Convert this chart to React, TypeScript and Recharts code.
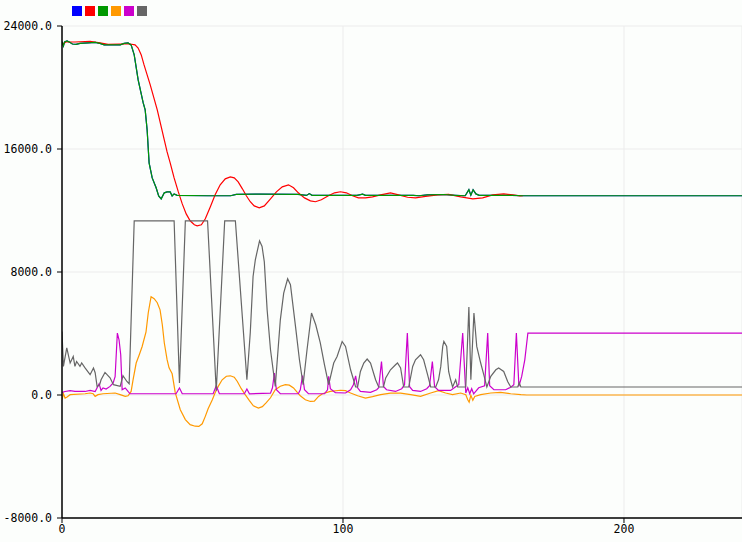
import React from "react";
import { LineChart, Line, XAxis, YAxis, CartesianGrid } from "recharts";

// [sample index, value] pairs
const greenSeries: [number, number][] = [
  [0, 22980], [0.5, 22700], [0.9, 22960], [1.8, 23030], [2.9, 22930], [3.7, 22830], [5, 22800],
  [6.4, 22870], [9.3, 22900], [11.8, 22930], [13.5, 22870], [15, 22770], [17.1, 22770], [20.7, 22770],
  [22.1, 22870], [23.5, 22900], [24.6, 22770], [25.7, 22120], [27.1, 20490], [28.9, 19000],
  [29.6, 18540], [30.3, 17240], [31, 15100], [32.1, 14120], [33.5, 13480], [34.4, 12950],
  [35.3, 12760], [36.4, 13150], [37.4, 13210], [38.5, 13210], [39.2, 12950], [39.9, 13080],
  [41, 12990], [52, 12960], [60, 12960], [62, 13050], [70, 13070], [84, 13050], [87, 12980],
  [88, 13100], [89, 12990], [105, 12990], [107, 13060], [108, 12990], [125, 12990], [127, 12960],
  [130, 13010], [136, 13040], [140, 12990], [143.5, 12960], [144.8, 13350], [145.5, 13000],
  [146.3, 13350], [147.3, 13080], [148.5, 12990], [160, 12990], [164, 12960], [242, 12960],
];

const blueSeries: [number, number][] = greenSeries;

const redSeries: [number, number][] = [
  [0, 22800], [1.4, 22960], [4.6, 22960], [10, 23000], [13.5, 22900], [16.4, 22800], [20.7, 22830],
  [24.2, 22830], [26, 22770], [27.1, 22570], [28.2, 22120], [29.2, 21470], [30.3, 20820],
  [31.4, 20170], [32.4, 19520], [33.9, 18540], [34.9, 17760], [36.4, 16590], [37.4, 15810],
  [38.5, 15100], [39.9, 14120], [41.4, 13210], [42.8, 12430], [44.2, 11780], [45.6, 11330],
  [47.1, 11070], [48.1, 11000], [49.6, 11070], [51, 11460], [52.8, 12240], [54.5, 13020],
  [56.3, 13670], [58.1, 14060], [59.9, 14190], [61.3, 14120], [62.7, 13860], [64.2, 13410],
  [65.6, 12960], [67, 12570], [68.4, 12300], [70.2, 12170], [72, 12300], [74.2, 12760],
  [76.3, 13210], [78.4, 13540], [80.6, 13670], [82.4, 13480], [84.1, 13150], [86.3, 12820],
  [88.4, 12630], [90.2, 12570], [92.3, 12700], [94.8, 12960], [97, 13150], [99.1, 13220],
  [101.2, 13150], [103.4, 12960], [105.5, 12820], [108, 12820], [110.5, 12890], [113.4, 13020],
  [116.9, 13150], [119.8, 13020], [123, 12860], [125.8, 12820], [129.4, 12920], [133.7, 13020],
  [137.6, 13050], [141.9, 12890], [146.2, 12760], [149.7, 12820], [153.3, 13020], [157.2, 13080],
  [160.4, 13020], [163, 12950], [164, 12960],
];

const orangeSeries: [number, number][] = [
  [0, -310], [0.5, 80], [1.1, -200], [1.8, -130], [2.9, 20], [8.2, 80], [10, 130], [11.1, 80],
  [11.8, -90], [12.8, 20], [14.6, 80], [18.9, 130], [20.7, 20], [22.5, -90], [23.5, -50],
  [24.6, 230], [25.3, 1000], [26.4, 2080], [27.5, 2620], [28.5, 3140], [29.9, 4110], [30.7, 5350],
  [31.7, 6390], [32.8, 6260], [33.9, 6000], [34.9, 5540], [35.7, 4570], [36.4, 3400], [37.4, 2300],
  [38.1, 1770], [39.2, 1380], [40.3, 150], [42.1, -960], [43.9, -1600], [45.6, -1930],
  [47.4, -2030], [48.7, -2040], [49.9, -1870], [51, -1390], [52, -890], [53.5, -310], [54.5, 150],
  [55.6, 560], [57, 990], [58.5, 1220], [59.9, 1250], [61.3, 1160], [62.4, 880], [63.8, 410],
  [65.2, 20], [66.7, -370], [68.1, -700], [69.9, -850], [71.3, -760], [72.7, -500], [74.2, -180],
  [75.9, 340], [77.7, 570], [79.5, 670], [80.9, 640], [82.4, 460], [83.8, 150], [84.8, -50],
  [86.6, -310], [88.4, -420], [89.8, -400], [91.3, -90], [92.7, 80], [95.5, 230], [99.1, 310],
  [100.9, 280], [102.7, 130], [105.2, -50], [108, -200], [110.5, -110], [113.4, 20], [116.9, 120],
  [120.5, 120], [124.1, 20], [127.6, -90], [131.2, 130], [134, 280], [136.5, 130], [139, 20],
  [141.9, 130], [143.7, 20], [144.4, -310], [144.9, -470], [145.5, -10], [146.2, -340],
  [146.9, -90], [149, 20], [152.6, 130], [156.1, 170], [159.7, 80], [163.3, 20], [165.4, 0],
  [242, 0],
];

const purpleSeries: [number, number][] = [
  [0, 170], [1.1, 230], [2.9, 280], [4.6, 230], [8.2, 230], [10, 300], [11.8, 230], [12.5, 470],
  [13.2, 730], [13.9, 300], [14.6, 460], [15.7, 390], [17.1, 560], [18.2, 780], [18.9, 1190],
  [19.7, 4030], [20.3, 3590], [20.9, 2620], [21.4, 340], [22.5, 460], [23.5, 230], [24.2, 80],
  [40.6, 80], [41.8, 460], [42.8, 80], [53.8, 80], [54.9, 600], [56, 80], [64.9, 80], [65.8, 390],
  [66.7, 80], [74.2, 120], [74.9, 470], [75.6, 1430], [76.3, 340], [77.7, 80], [84.1, 80],
  [84.8, 340], [85.6, 1270], [86.3, 340], [87.7, 80], [93.4, 80], [94.5, 340], [94.9, 1210],
  [95.5, 410], [97.3, 150], [100.9, 130], [102.7, 340], [103.7, 670], [104.5, 1250], [105.2, 470],
  [106.2, 230], [109.8, 170], [112, 340], [112.7, 470], [113.7, 2180], [114.4, 560], [115.5, 340],
  [118.7, 230], [120.9, 410], [121.9, 670], [122.9, 4030], [123.7, 540], [124.8, 300], [127.6, 230],
  [129.8, 410], [130.8, 600], [131.8, 2180], [132.6, 540], [134, 300], [138.3, 300], [140.1, 540],
  [141.2, 670], [142.6, 4030], [143.7, 130], [144.4, 470], [145.1, 80], [145.8, 410], [146.5, 80],
  [148.3, 470], [150.4, 600], [151.5, 4030], [152.2, 600], [153.7, 340], [157.9, 340], [159.7, 510],
  [160.8, 670], [161.7, 4030], [162.6, 560], [163.6, 1210], [164.7, 2290], [165.8, 4030],
  [242, 4030],
];

const graySeries: [number, number][] = [
  [0, 4130], [0.5, 1860], [1.7, 3060], [2.9, 2080], [4, 2510], [4.6, 1860], [5.2, 2180], [6.4, 1860],
  [7, 2080], [8.2, 1760], [10, 1320], [11.2, 1760], [11.8, 1450], [12.5, 540], [13.4, 670],
  [13.9, 990], [15.3, 1470], [17.1, 1120], [18.3, 670], [20.7, 560], [21.7, 1250], [23.1, 880],
  [23.9, 730], [25.7, 11330], [39.9, 11330], [41.8, 780], [43.9, 11330], [51.8, 11330], [54.9, 280],
  [57.9, 11330], [61.7, 11330], [65.8, 990], [67, 4050], [68, 7710], [68.8, 8790], [70.3, 10030],
  [71.2, 9660], [72, 8660], [73, 5540], [74.2, 2940], [75.9, 560], [77.7, 4890], [78.9, 6630],
  [80.3, 7560], [81.3, 7170], [83.1, 4460], [84.5, 2290], [85.8, 670], [87.2, 2940], [88.8, 5330],
  [90.3, 4570], [91.9, 3400], [93.4, 1970], [94.9, 670], [96.7, 2080], [97.9, 2510], [99.7, 3480],
  [100.9, 3160], [102.7, 1640], [104.5, 520], [105.2, 520], [106.2, 1530], [107.4, 2080],
  [108.6, 2340], [109.8, 2080], [111.6, 990], [112.7, 520], [114.4, 520], [115.2, 1110],
  [116.9, 1640], [118.7, 1970], [119.4, 2080], [120.5, 1760], [121.6, 520], [123.4, 520],
  [124.8, 1860], [125.8, 2290], [127.6, 2620], [128.7, 2290], [130.1, 1320], [131.2, 520],
  [133, 520], [134, 990], [134.8, 1860], [135.5, 3160], [135.9, 3480], [136.9, 3160], [137.6, 1530],
  [138.3, 990], [139, 520], [140.1, 990], [140.8, 520], [143.7, 520], [144.8, 5720], [145.5, 990],
  [146.6, 5330], [147.6, 3160], [149, 2080], [150.1, 1320], [151.2, 520], [152.6, 1210],
  [154.4, 1640], [155.4, 1760], [157.2, 1530], [158.6, 880], [159.7, 520], [162.2, 520],
  [162.7, 800], [163.3, 520], [242, 520],
];

const yTicks = [-8000, 0, 8000, 16000, 24000];
const xTicks = [0, 100, 200];

const seriesList = [
  { name: "blue", color: "#0000ff", data: blueSeries },
  { name: "red", color: "#ff0000", data: redSeries },
  { name: "green", color: "#009900", data: greenSeries },
  { name: "orange", color: "#ff9900", data: orangeSeries },
  { name: "purple", color: "#cc00cc", data: purpleSeries },
  { name: "gray", color: "#666666", data: graySeries },
];

const toRows = (s: [number, number][]) => s.map(([x, v]) => ({ x, v }));

const tickFont = { fontFamily: "DejaVu Sans Mono", fontSize: 11.5, fill: "#000" };

export default function App() {
  return (
    <div style={{ position: "fixed", left: 0, top: 0, width: 742, height: 542, background: "#fcfefc" }}>
      <div style={{ position: "absolute", left: 72, top: 6, display: "flex", gap: 3, zIndex: 2 }}>
        {seriesList.map((s) => (
          <div key={s.name} style={{ width: 10, height: 10, background: s.color }} />
        ))}
      </div>
      <LineChart width={742} height={542} margin={{ top: 26, right: 0, bottom: 0, left: 0 }}>
        <CartesianGrid stroke="#ececec" strokeWidth={1} />
        <XAxis
          type="number"
          dataKey="x"
          domain={[0, 242]}
          ticks={xTicks}
          allowDataOverflow
          height={24}
          tickSize={5}
          tickMargin={2}
          axisLine={{ stroke: "#000", strokeWidth: 1.5 }}
          tickLine={{ stroke: "#000" }}
          tick={tickFont}
        />
        <YAxis
          type="number"
          domain={[-8000, 24000]}
          ticks={yTicks}
          allowDataOverflow
          width={62}
          tickSize={5}
          tickMargin={5}
          tickFormatter={(v: number) => v.toFixed(1)}
          axisLine={{ stroke: "#000", strokeWidth: 1.5 }}
          tickLine={{ stroke: "#000" }}
          tick={tickFont}
        />
        {seriesList.map((s) => (
          <Line
            key={s.name}
            data={toRows(s.data)}
            dataKey="v"
            type="linear"
            stroke={s.color}
            strokeWidth={1.2}
            dot={false}
            activeDot={false}
            isAnimationActive={false}
          />
        ))}
      </LineChart>
    </div>
  );
}
